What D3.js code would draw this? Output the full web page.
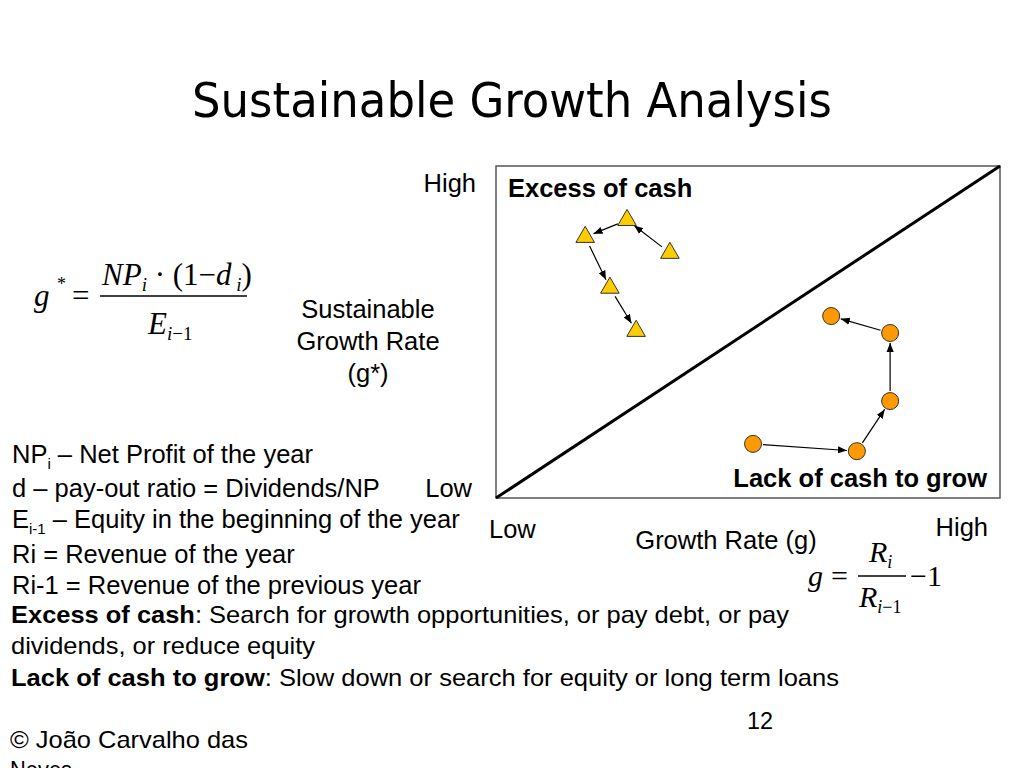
<!DOCTYPE html>
<html>
<head>
<meta charset="utf-8">
<script src="https://cdn.jsdelivr.net/npm/d3@7"></script>
<style>
  body { margin: 0; background: #fff; }
  text { font-family: "Liberation Sans", Arial, sans-serif; fill: #000; }
  .math { font-family: "Liberation Serif", "Times New Roman", serif; font-style: italic; }
  .mathUp { font-family: "Liberation Serif", "Times New Roman", serif; font-style: normal; }
  .narrow { font-family: "Liberation Sans Narrow", "Liberation Sans", Arial, sans-serif; }
</style>
</head>
<body>
<script>
// values (0 = low, 1 = high on both axes)
let excessGrowth = [0.345, 0.260, 0.177, 0.226, 0.278];
let excessSustain = [0.738, 0.837, 0.786, 0.633, 0.503];
let lackGrowth = [0.510, 0.716, 0.782, 0.782, 0.665];
let lackSustain = [0.163, 0.141, 0.292, 0.497, 0.548];
let axisLabels = ["Low", "High"];

window.onload = function(){
	let w = 1024, h = 768;

	let svg = d3.select("body")
		.append("svg")
		.attr("width", w)
		.attr("height", h);

	//Arrow head
	svg.append("defs").append("marker")
		.attr("id", "arrow")
		.attr("viewBox", "0 0 10 10")
		.attr("refX", 10)
		.attr("refY", 5)
		.attr("markerWidth", 9)
		.attr("markerHeight", 9)
		.attr("markerUnits", "userSpaceOnUse")
		.attr("orient", "auto")
		.append("path")
		.attr("d", "M0,1 L10,5 L0,9 Z")
		.style("fill", "#000");

	//Title
	svg.append("text")
		.attr("x", 512)
		.attr("y", 117)
		.attr("text-anchor", "middle")
		.attr("textLength", 640)
		.attr("lengthAdjust", "spacingAndGlyphs")
		.style("font-family", "'DejaVu Sans Condensed', 'DejaVu Sans', sans-serif")
		.style("font-size", "48px")
		.text("Sustainable Growth Analysis");

	//Scales
	let x = d3.scaleLinear().domain([0, 1]).range([496, 1000]);
	let y = d3.scaleLinear().domain([0, 1]).range([498, 166]);

	//Chart box
	svg.append("rect")
		.attr("x", x(0))
		.attr("y", y(1))
		.attr("width", x(1) - x(0))
		.attr("height", y(0) - y(1))
		.style("fill", "none")
		.style("stroke", "#555")
		.style("stroke-width", 1.5);

	//Diagonal g = g*
	svg.append("line")
		.attr("x1", x(0)).attr("y1", y(0))
		.attr("x2", x(1)).attr("y2", y(1))
		.style("stroke", "#000")
		.style("stroke-width", 3);

	let excess = excessGrowth.map(function(d, i){ return {g: d, s: excessSustain[i]}; });
	let lack = lackGrowth.map(function(d, i){ return {g: d, s: lackSustain[i]}; });

	//Arrows between consecutive years
	function drawArrows(pts, gapStart, gapEnd){
		let pairs = d3.pairs(pts);
		svg.selectAll(null)
			.data(pairs)
			.enter()
			.append("line")
			.each(function(d){
				let x1 = x(d[0].g), y1 = y(d[0].s), x2 = x(d[1].g), y2 = y(d[1].s);
				let len = Math.hypot(x2 - x1, y2 - y1);
				let ux = (x2 - x1) / len, uy = (y2 - y1) / len;
				d3.select(this)
					.attr("x1", x1 + ux * gapStart)
					.attr("y1", y1 + uy * gapStart)
					.attr("x2", x2 - ux * gapEnd)
					.attr("y2", y2 - uy * gapEnd);
			})
			.style("stroke", "#000")
			.style("stroke-width", 1.2)
			.attr("marker-end", "url(#arrow)");
	}
	drawArrows(excess, 10, 9);
	drawArrows(lack, 10, 10);

	//Triangles
	svg.selectAll(".tri")
		.data(excess)
		.enter()
		.append("path")
		.attr("class", "tri")
		.attr("d", d3.symbol(d3.symbolTriangle, 150))
		.attr("transform", function(d){ return "translate(" + x(d.g) + "," + y(d.s) + ")"; })
		.style("fill", "#FFCC00")
		.style("stroke", "#333")
		.style("stroke-width", 1);

	//Circles
	svg.selectAll(".dot")
		.data(lack)
		.enter()
		.append("circle")
		.attr("class", "dot")
		.attr("cx", function(d){ return x(d.g); })
		.attr("cy", function(d){ return y(d.s); })
		.attr("r", 8.5)
		.style("fill", "#FF9900")
		.style("stroke", "#333")
		.style("stroke-width", 1);

	//Region labels
	svg.append("text")
		.attr("x", x(0) + 12).attr("y", 197)
		.style("font-size", "25.5px").style("font-weight", "bold")
		.text("Excess of cash");
	svg.append("text")
		.attr("x", x(1) - 13).attr("y", 487)
		.attr("text-anchor", "end")
		.style("font-size", "25.5px").style("font-weight", "bold")
		.text("Lack of cash to grow");

	//Axis end labels
	svg.append("text").attr("x", 476).attr("y", 192).attr("text-anchor", "end")
		.style("font-size", "25.5px").text(axisLabels[1]);
	svg.append("text").attr("x", 472).attr("y", 497).attr("text-anchor", "end")
		.style("font-size", "25.5px").text(axisLabels[0]);
	svg.append("text").attr("x", 489).attr("y", 538)
		.style("font-size", "25.5px").text(axisLabels[0]);
	svg.append("text").attr("x", 988).attr("y", 536).attr("text-anchor", "end")
		.style("font-size", "25.5px").text(axisLabels[1]);

	//Axis titles
	svg.append("text").attr("x", 726).attr("y", 549).attr("text-anchor", "middle")
		.style("font-size", "25.5px").text("Growth Rate (g)");
	let yTitle = svg.append("text").attr("text-anchor", "middle").style("font-size", "25.5px");
	["Sustainable", "Growth Rate", "(g*)"].forEach(function(t, i){
		yTitle.append("tspan").attr("x", 368).attr("y", 318 + i * 32).text(t);
	});

	//Formula g* = NPi·(1-di)/Ei-1
	let f1 = svg.append("g");
	f1.append("text").attr("class", "math").attr("x", 34).attr("y", 306).style("font-size", "31px").text("g");
	f1.append("text").attr("class", "mathUp").attr("x", 57).attr("y", 290).style("font-size", "18px").text("*");
	f1.append("text").attr("class", "mathUp").attr("x", 72).attr("y", 306).style("font-size", "31px").text("=");
	f1.append("line").attr("x1", 100).attr("x2", 247).attr("y1", 296).attr("y2", 296)
		.style("stroke", "#000").style("stroke-width", 1.3);
	let num = f1.append("text").attr("x", 102).attr("y", 285).style("font-size", "31px");
	num.append("tspan").attr("class", "math").text("NP");
	num.append("tspan").attr("class", "math").attr("dy", 6).style("font-size", "19px").text("i");
	num.append("tspan").attr("class", "mathUp").attr("dy", -6).text(" \u00b7 (1\u2212");
	num.append("tspan").attr("class", "math").text("d");
	num.append("tspan").attr("class", "math").attr("dy", 6).style("font-size", "19px").text(" i");
	num.append("tspan").attr("class", "mathUp").attr("dy", -6).text(")");
	let den = f1.append("text").attr("x", 148).attr("y", 334).style("font-size", "31px");
	den.append("tspan").attr("class", "math").text("E");
	den.append("tspan").attr("class", "math").attr("dy", 6).style("font-size", "19px").text("i");
	den.append("tspan").attr("class", "mathUp").style("font-size", "19px").text("\u22121");

	//Formula g = Ri/Ri-1 - 1
	let f2 = svg.append("g");
	f2.append("text").attr("class", "math").attr("x", 808).attr("y", 586).style("font-size", "30px").text("g");
	f2.append("text").attr("class", "mathUp").attr("x", 831).attr("y", 586).style("font-size", "30px").text("=");
	f2.append("line").attr("x1", 858).attr("x2", 906).attr("y1", 576).attr("y2", 576)
		.style("stroke", "#000").style("stroke-width", 1.3);
	let n2 = f2.append("text").attr("x", 869).attr("y", 562).style("font-size", "30px");
	n2.append("tspan").attr("class", "math").text("R");
	n2.append("tspan").attr("class", "math").attr("dy", 6).style("font-size", "18px").text("i");
	let d2 = f2.append("text").attr("x", 859).attr("y", 607).style("font-size", "30px");
	d2.append("tspan").attr("class", "math").text("R");
	d2.append("tspan").attr("class", "math").attr("dy", 6).style("font-size", "18px").text("i");
	d2.append("tspan").attr("class", "mathUp").style("font-size", "18px").text("\u22121");
	f2.append("text").attr("class", "mathUp").attr("x", 910).attr("y", 586).style("font-size", "30px").text("\u22121");

	//Definitions
	let defs = [
		{main: "NP", sub: "i", rest: " \u2013 Net Profit of the year", y: 463},
		{main: "d \u2013 pay-out ratio = Dividends/NP", sub: "", rest: "", y: 497},
		{main: "E", sub: "i-1", rest: " \u2013 Equity in the beginning of the year", y: 528},
		{main: "Ri = Revenue of the year", sub: "", rest: "", y: 563},
		{main: "Ri-1 = Revenue of the previous year", sub: "", rest: "", y: 594}
	];
	defs.forEach(function(d){
		let t = svg.append("text").attr("x", 12).attr("y", d.y).style("font-size", "25.5px");
		t.append("tspan").text(d.main);
		if (d.sub) {
			t.append("tspan").attr("dy", 6).style("font-size", "15px").text(d.sub);
			t.append("tspan").attr("dy", -6).text(d.rest);
		}
	});

	//Notes (condensed)
	let notes = [
		{bold: "Excess of cash", rest: ": Search for growth opportunities, or pay debt, or pay", y: 623, len: 778},
		{bold: "", rest: "dividends, or reduce equity", y: 654, len: 304},
		{bold: "Lack of cash to grow", rest: ": Slow down or search for equity or long term loans", y: 686, len: 828}
	];
	notes.forEach(function(d){
		let t = svg.append("text").attr("class", "narrow").attr("x", 11).attr("y", d.y)
			.attr("textLength", d.len).attr("lengthAdjust", "spacingAndGlyphs")
			.style("font-size", "24px");
		if (d.bold) t.append("tspan").style("font-weight", "bold").text(d.bold);
		t.append("tspan").text(d.rest);
	});

	//Footer
	svg.append("text").attr("class", "narrow").attr("x", 760).attr("y", 729).attr("text-anchor", "middle")
		.attr("textLength", 26).attr("lengthAdjust", "spacingAndGlyphs")
		.style("font-size", "24px").text("12");
	svg.append("text").attr("class", "narrow").attr("x", 10).attr("y", 748)
		.attr("textLength", 238).attr("lengthAdjust", "spacingAndGlyphs")
		.style("font-size", "24px").text("\u00a9 Jo\u00e3o Carvalho das");
	svg.append("text").attr("class", "narrow").attr("x", 10).attr("y", 778)
		.attr("textLength", 62).attr("lengthAdjust", "spacingAndGlyphs")
		.style("font-size", "24px").text("Neves");
};
</script>
</body>
</html>
